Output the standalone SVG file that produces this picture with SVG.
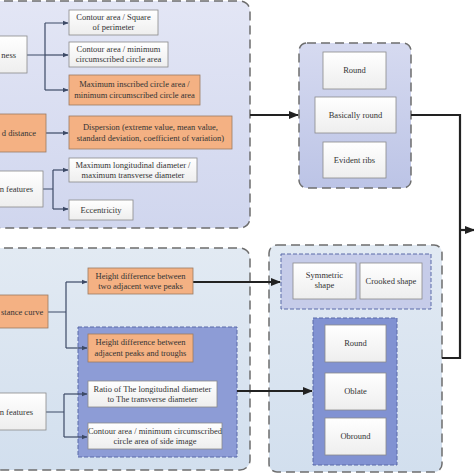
<svg xmlns="http://www.w3.org/2000/svg" width="474" height="474" viewBox="0 0 474 474">
<defs>
<linearGradient id="gTop" x1="0" y1="0" x2="0" y2="1"><stop offset="0" stop-color="#e3e6f5"/><stop offset="1" stop-color="#d0d6ee"/></linearGradient>
<linearGradient id="gTR" x1="0" y1="0" x2="0" y2="1"><stop offset="0" stop-color="#d6daf0"/><stop offset="1" stop-color="#bcc4e6"/></linearGradient>
<linearGradient id="gBot" x1="0" y1="0" x2="0" y2="1"><stop offset="0" stop-color="#e2eaf3"/><stop offset="1" stop-color="#d2dfee"/></linearGradient>
<linearGradient id="gW" x1="0" y1="0" x2="0" y2="1"><stop offset="0" stop-color="#ffffff"/><stop offset="1" stop-color="#eeeeee"/></linearGradient>
<marker id="ah" viewBox="0 0 10 10" refX="9" refY="5" markerWidth="6" markerHeight="6" orient="auto" markerUnits="userSpaceOnUse"><path d="M0,1 L10,5 L0,9 z" fill="#3d4a66"/></marker>
<marker id="ahb" viewBox="0 0 10 10" refX="9" refY="5" markerWidth="10" markerHeight="10" orient="auto" markerUnits="userSpaceOnUse"><path d="M0,1 L10,5 L0,9 z" fill="#222"/></marker>
</defs>
<style>
.panel{stroke:#6e6e6e;stroke-width:1.5;stroke-dasharray:9 5}
.inner{stroke:#5a6aa8;stroke-width:1;stroke-dasharray:4 2}
.wb{fill:url(#gW);stroke:#8a8a8a;stroke-width:0.8}
.ob{fill:#f4b183;stroke:#9c7b62;stroke-width:0.8}
.t{font-family:"Liberation Serif","Times New Roman",serif;font-size:8.5px;fill:#333;text-anchor:middle}
.tl{font-family:"Liberation Serif","Times New Roman",serif;font-size:8.5px;fill:#333;text-anchor:end}
.ts{font-family:"Liberation Serif","Times New Roman",serif;font-size:8.5px;fill:#333;text-anchor:start}
.c{fill:none;stroke:#3d4a66;stroke-width:1.2}
.cb{fill:none;stroke:#222;stroke-width:2.2}
</style>

<g id="panel-top">
<rect class="panel" x="-20" y="1" width="270" height="227" rx="10" fill="url(#gTop)"/>
</g>
<g id="panel-top-right">
<rect class="panel" x="299" y="43" width="112" height="145" rx="8" fill="url(#gTR)"/>
</g>
<g id="panel-bottom">
<rect class="panel" x="-20" y="248" width="270" height="222" rx="10" fill="url(#gBot)"/>
</g>
<g id="panel-bottom-inner">
<rect class="inner" x="78" y="327" width="159" height="130" fill="#8d9cd6"/>
</g>
<g id="panel-bottom-right">
<rect class="panel" x="269" y="245" width="173" height="227" rx="8" fill="url(#gBot)"/>
<rect class="inner" x="281" y="254" width="150" height="55" fill="#c6cce9" stroke="#6a6a8a"/>
<rect class="inner" x="313" y="318" width="84" height="147" fill="#8192d2"/>
</g>

<g id="connectors">
<path class="c" d="M27,55 H45 M45,23 V90 M45,23 H68" marker-end="url(#ah)"/>
<path class="c" d="M45,55 H68" marker-end="url(#ah)"/>
<path class="c" d="M45,90 H68" marker-end="url(#ah)"/>
<path class="c" d="M46,133 H68" marker-end="url(#ah)"/>
<path class="c" d="M43,189 H53 M53,170 V209"/>
<path class="c" d="M53,170 H68" marker-end="url(#ah)"/>
<path class="c" d="M53,209 H68" marker-end="url(#ah)"/>
<path class="c" d="M48,312 H66 M66,282 V348"/>
<path class="c" d="M66,282 H87" marker-end="url(#ah)"/>
<path class="c" d="M66,348 H87" marker-end="url(#ah)"/>
<path class="c" d="M46,412 H64 M64,394 V437"/>
<path class="c" d="M64,394 H87" marker-end="url(#ah)"/>
<path class="c" d="M64,437 H87" marker-end="url(#ah)"/>
<path class="cb" d="M250,115 H298" marker-end="url(#ahb)"/>
<path class="cb" d="M193,282 H280" marker-end="url(#ahb)"/>
<path class="cb" d="M237,391 H312" marker-end="url(#ahb)"/>
<path class="cb" d="M411,115 H460 V358 H442"/>
<path class="cb" d="M460,230 H474" marker-end="url(#ahb)"/>
</g>

<g id="n-roundness"><rect class="wb" x="-10" y="36" width="37" height="37"/><text class="tl" x="16" y="58">ness</text></g>
<g id="n-contour-square"><rect class="wb" x="69" y="10" width="89" height="25"/><text class="t" x="113.5" y="20">Contour area / Square</text><text class="t" x="113.5" y="30">of perimeter</text></g>
<g id="n-contour-min"><rect class="wb" x="69" y="42" width="99" height="25"/><text class="t" x="118.5" y="52">Contour area / minimum</text><text class="t" x="118.5" y="62">circumscribed circle area</text></g>
<g id="n-max-inscribed"><rect class="ob" x="69" y="75" width="131" height="30"/><text class="t" x="134.5" y="87">Maximum inscribed circle area /</text><text class="t" x="134.5" y="98">minimum circumscribed circle area</text></g>
<g id="n-radial"><rect class="ob" x="-10" y="114" width="56" height="38"/><text class="tl" x="36" y="136">d distance</text></g>
<g id="n-dispersion"><rect class="ob" x="69" y="116" width="163" height="33"/><text class="t" x="150.5" y="130">Dispersion (extreme value, mean value,</text><text class="t" x="150.5" y="141">standard deviation, coefficient of variation)</text></g>
<g id="n-features-top"><rect class="wb" x="-10" y="171" width="53" height="36"/><text class="tl" x="33" y="192">n features</text></g>
<g id="n-ratio-top"><rect class="wb" x="69" y="158" width="128" height="24"/><text class="t" x="133" y="168">Maximum longitudinal diameter /</text><text class="t" x="133" y="178">maximum transverse diameter</text></g>
<g id="n-eccentricity"><rect class="wb" x="69" y="200" width="64" height="20"/><text class="t" x="101" y="213">Eccentricity</text></g>

<g id="n-round1"><rect class="wb" x="323" y="52" width="63" height="37"/><text class="t" x="354.5" y="73">Round</text></g>
<g id="n-basically"><rect class="wb" x="315" y="97" width="81" height="36"/><text class="t" x="355.5" y="118">Basically round</text></g>
<g id="n-ribs"><rect class="wb" x="323" y="142" width="63" height="36"/><text class="t" x="354.5" y="163">Evident ribs</text></g>

<g id="n-distance"><rect class="ob" x="-10" y="295" width="58" height="33"/><text class="ts" x="1" y="315">stance curve</text></g>
<g id="n-peaks"><rect class="ob" x="88" y="268" width="105" height="26"/><text class="t" x="140.5" y="279">Height difference between</text><text class="t" x="140.5" y="289">two adjacent wave peaks</text></g>
<g id="n-troughs"><rect class="ob" x="88" y="334" width="105" height="28"/><text class="t" x="140.5" y="345">Height difference between</text><text class="t" x="140.5" y="356">adjacent peaks and troughs</text></g>
<g id="n-features-bottom"><rect class="wb" x="-10" y="393" width="56" height="37"/><text class="tl" x="33" y="415">n features</text></g>
<g id="n-ratio-bottom"><rect class="wb" x="88" y="381" width="129" height="26"/><text class="t" x="152.5" y="392">Ratio of The longitudinal diameter</text><text class="t" x="152.5" y="402">to The transverse diameter</text></g>
<g id="n-side"><rect class="wb" x="88" y="423" width="134" height="26"/><text class="t" x="155" y="434">Contour area / minimum circumscribed</text><text class="t" x="155" y="444">circle area of side image</text></g>

<g id="n-symmetric"><rect class="wb" x="293" y="263" width="63" height="36"/><text class="t" x="324.5" y="278">Symmetric</text><text class="t" x="324.5" y="288">shape</text></g>
<g id="n-crooked"><rect class="wb" x="360" y="263" width="62" height="36"/><text class="t" x="391" y="284">Crooked shape</text></g>
<g id="n-round2"><rect class="wb" x="325" y="325" width="61" height="37"/><text class="t" x="355.5" y="346">Round</text></g>
<g id="n-oblate"><rect class="wb" x="325" y="373" width="61" height="37"/><text class="t" x="355.5" y="394">Oblate</text></g>
<g id="n-obround"><rect class="wb" x="325" y="418" width="61" height="37"/><text class="t" x="355.5" y="439">Obround</text></g>
</svg>
